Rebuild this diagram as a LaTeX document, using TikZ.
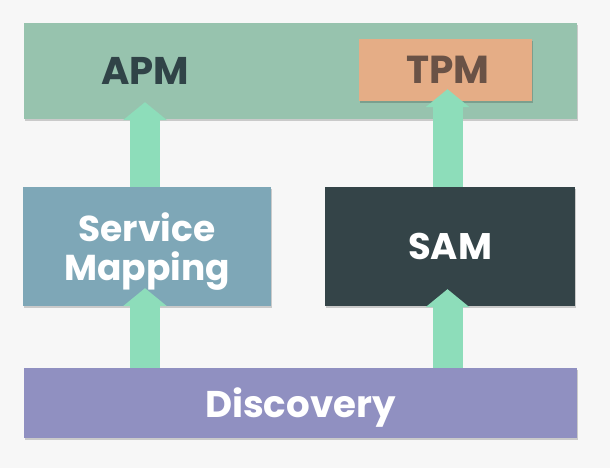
\documentclass[tikz,border=0pt]{standalone}
\usepackage{fontspec}
\setmainfont{Poppins}
\usetikzlibrary{arrows.meta,shadows}
\definecolor{bgc}{HTML}{F7F7F7}
\definecolor{topc}{HTML}{97C3AE}
\definecolor{tpmc}{HTML}{E5AD86}
\definecolor{apmtxt}{HTML}{304347}
\definecolor{tpmtxt}{HTML}{6A5246}
\definecolor{smc}{HTML}{7EA7B7}
\definecolor{samc}{HTML}{344448}
\definecolor{discc}{HTML}{9090C1}
\definecolor{arrc}{HTML}{8DDDBA}
\begin{document}
\begin{tikzpicture}[x=1pt,y=-1pt,
  box/.style={rectangle, inner sep=0pt, draw=none, text depth=0pt,
    general shadow={fill=black, opacity=0.18, shadow xshift=0.8pt, shadow yshift=-1.8pt}},
  lbl/.style={font=\bfseries\fontsize{#1}{#1}\selectfont},
  bigarrow/.style={draw=arrc, line width=30pt, line cap=butt,
    -{Triangle[width=44pt,length=18pt,line width=0pt,fill=arrc]}}]
\fill[bgc] (0,0) rectangle (610,468);
\useasboundingbox (0,0) rectangle (610,468);

% top layer
\node[box, fill=topc, minimum width=553pt, minimum height=96pt] (top) at (300.5,71) {};
\node[box, fill=tpmc, minimum width=173pt, minimum height=62pt,
      text=tpmtxt, lbl=39, text height=28pt] (tpm) at (445.5,70) {\hspace*{5pt}TPM};
\node[anchor=base, inner sep=0pt, text=apmtxt, lbl=38.6] (apm) at (145,85) {APM};

% middle layer
\node[box, fill=smc, minimum width=248pt, minimum height=119pt, text=white,
      align=center, font=\bfseries\fontsize{36}{39}\selectfont] (sm) at (147,246.5)
      {Service\\Mapping};
\node[box, fill=samc, minimum width=250pt, minimum height=119pt, text=white,
      lbl=37] (sam) at (450,246.5) {SAM};

% bottom layer
\node[box, fill=discc, minimum width=553pt, minimum height=70pt, text=white,
      lbl=37.2] (disc) at (300.5,403) {Discovery};

% arrows
\draw[bigarrow] ([xshift=-2pt]sm.north) -- ([xshift=-2pt,yshift=17pt]top.south -| sm.north);
\draw[bigarrow] ([xshift=-2.5pt]sam.north) -- ([xshift=-2.5pt,yshift=12pt]tpm.south -| sam.north);
\draw[bigarrow] ([xshift=-2pt]sm.south |- disc.north) -- ([xshift=-2pt,yshift=18pt]sm.south);
\draw[bigarrow] ([xshift=-2.5pt]sam.south |- disc.north) -- ([xshift=-2.5pt,yshift=17pt]sam.south);
\end{tikzpicture}
\end{document}
